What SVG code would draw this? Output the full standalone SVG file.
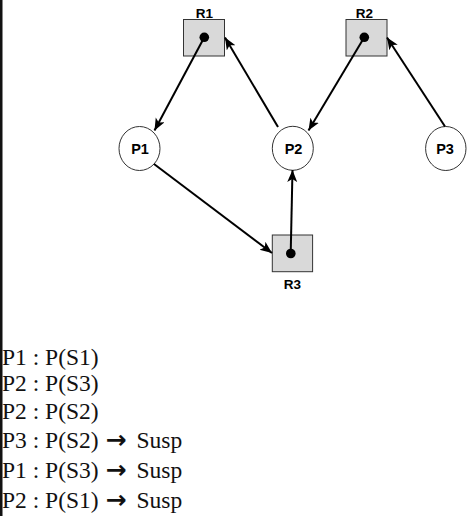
<svg xmlns="http://www.w3.org/2000/svg" width="474" height="516" viewBox="0 0 474 516">
<style>
.res{fill:#d9d9d9;stroke:#333;stroke-width:1}
.proc{fill:#fff;stroke:#333;stroke-width:1}
.dot{fill:#000}
.lbl{font-family:"Liberation Sans",Arial,sans-serif;font-weight:bold;font-size:13.5px;fill:#000;text-anchor:middle}
.plbl{font-family:"Liberation Sans",Arial,sans-serif;font-weight:bold;font-size:14.5px;fill:#000;text-anchor:middle}
.edge{stroke:#000;stroke-width:2;fill:none;marker-end:url(#ah)}
.seq{font-family:"Liberation Serif","Times New Roman",serif;font-size:23.5px;fill:#111}
.arr{font-family:"DejaVu Sans",sans-serif;font-weight:bold;font-size:25px}
</style>
<defs>
<marker id="ah" markerUnits="userSpaceOnUse" markerWidth="14" markerHeight="12" refX="12" refY="5" orient="auto">
<path d="M0,0 L12,5 L0,10 L3,5 z" fill="#000"/>
</marker>
</defs>
<rect x="0" y="0" width="474" height="516" fill="#fff"/>
<rect x="0" y="0" width="2.5" height="516" fill="#111"/>
<g id="R1">
<rect class="res" x="183.5" y="19.5" width="41" height="36.5"/>
<circle class="dot" cx="204.3" cy="37.3" r="4.8"/>
<text class="lbl" x="204.5" y="17.5">R1</text>
</g>
<g id="R2">
<rect class="res" x="346" y="19.5" width="41" height="36.5"/>
<circle class="dot" cx="364.3" cy="37.3" r="4.8"/>
<text class="lbl" x="364.5" y="17.5">R2</text>
</g>
<g id="R3">
<rect class="res" x="272.3" y="235" width="40.3" height="36.7"/>
<circle class="dot" cx="290.8" cy="253.5" r="4.8"/>
<text class="lbl" x="292.5" y="289">R3</text>
</g>
<g id="P1">
<ellipse class="proc" cx="139.5" cy="148.5" rx="20.5" ry="22"/>
<text class="plbl" x="140" y="154">P1</text>
</g>
<g id="P2">
<ellipse class="proc" cx="292.8" cy="148.3" rx="20.5" ry="22"/>
<text class="plbl" x="293.5" y="154">P2</text>
</g>
<g id="P3">
<ellipse class="proc" cx="445.8" cy="148.5" rx="20.2" ry="22"/>
<text class="plbl" x="445" y="154">P3</text>
</g>
<g id="connectors">
<line class="edge" x1="204.3" y1="37.3" x2="154.5" y2="130.5"/>
<line class="edge" x1="278" y1="127" x2="225" y2="37.5"/>
<line class="edge" x1="364.3" y1="37.3" x2="308.5" y2="130.5"/>
<line class="edge" x1="445" y1="126.5" x2="387" y2="37.5"/>
<line class="edge" x1="154" y1="164" x2="272" y2="253"/>
<line class="edge" x1="290.7" y1="253.5" x2="292.5" y2="170"/>
</g>
<g id="sequence">
<text class="seq" x="2" y="365">P1 : P(S1)</text>
<text class="seq" x="2" y="390.5">P2 : P(S3)</text>
<text class="seq" x="2" y="419">P2 : P(S2)</text>
<text class="seq" x="2" y="448.3">P3 : P(S2) <tspan class="arr" x="105.5" y="448">→</tspan><tspan x="136.5" y="448.3">Susp</tspan></text>
<text class="seq" x="2" y="478.3">P1 : P(S3) <tspan class="arr" x="105.5" y="478">→</tspan><tspan x="136.5" y="478.3">Susp</tspan></text>
<text class="seq" x="2" y="508.3">P2 : P(S1) <tspan class="arr" x="105.5" y="508">→</tspan><tspan x="136.5" y="508.3">Susp</tspan></text>
</g>
</svg>
